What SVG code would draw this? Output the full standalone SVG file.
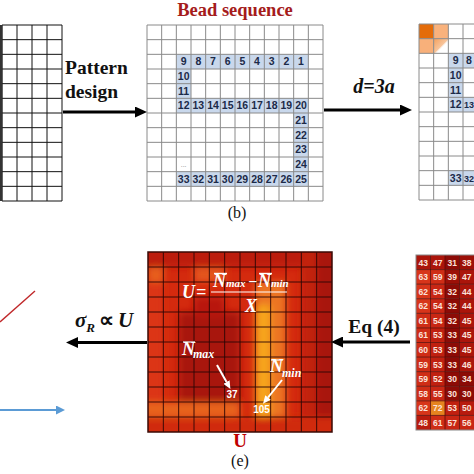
<svg xmlns="http://www.w3.org/2000/svg" width="474" height="474" viewBox="0 0 474 474">
<style>
.gk{fill:none;stroke:#111;stroke-width:1}
.gg{fill:none;stroke:#8a8a8a;stroke-width:1}
.bl{fill:#c9d8ec}
.bn{font-family:"Liberation Sans",Arial,sans-serif;font-weight:bold;font-size:10.5px;fill:#1c2a48;text-anchor:middle}
.ser{font-family:"Liberation Serif","Times New Roman",serif;font-weight:bold;fill:#111}
.cap{font-family:"Liberation Serif","Times New Roman",serif;font-size:16px;fill:#111;text-anchor:middle}
.wi{font-family:"Liberation Serif","Times New Roman",serif;font-weight:bold;font-style:italic;fill:#fff}
.wn{font-family:"Liberation Sans",Arial,sans-serif;font-weight:bold;font-size:10px;fill:#fff;text-anchor:middle}
.dn{font-family:"Liberation Sans",Arial,sans-serif;font-weight:bold;font-size:8.5px;fill:#fbe2da;text-anchor:middle}
.arr{stroke:#000;stroke-width:3.2;fill:none}
</style>
<defs>
<marker id="ah" markerUnits="userSpaceOnUse" markerWidth="12" markerHeight="11" refX="0" refY="5.5" orient="auto" viewBox="0 0 12 11">
<path d="M0,0 L12,5.5 L0,11 z" fill="#000"/>
</marker>
<marker id="ahw" markerUnits="userSpaceOnUse" markerWidth="8" markerHeight="7" refX="0" refY="3.5" orient="auto" viewBox="0 0 8 7">
<path d="M0,0 L8,3.5 L0,7 z" fill="#fff"/>
</marker>
<marker id="ahb" markerUnits="userSpaceOnUse" markerWidth="9" markerHeight="9" refX="0" refY="4.5" orient="auto" viewBox="0 0 9 9">
<path d="M0,0 L9,4.5 L0,9 z" fill="#5b9bd5"/>
</marker>
<linearGradient id="og" x1="0" y1="0" x2="1" y2="1">
<stop offset="0" stop-color="#f4a05c"/>
<stop offset="0.5" stop-color="#f8c49a"/>
<stop offset="0.62" stop-color="#fff" stop-opacity="0"/>
</linearGradient>
<clipPath id="hmclip"><rect x="148" y="252" width="184" height="180"/></clipPath>
<filter id="blur" x="-10%" y="-10%" width="120%" height="120%"><feGaussianBlur stdDeviation="3.5"/></filter>
</defs>
<rect width="474" height="474" fill="#fff"/>

<!-- (a) empty grid -->
<g id="grid-a">
<path class="gk" d="M2,25V201M17,25V201M32,25V201M47,25V201M62,25V201M2,25H62M2,39.67H62M2,54.33H62M2,69H62M2,83.67H62M2,98.33H62M2,113H62M2,127.67H62M2,142.33H62M2,157H62M2,171.67H62M2,186.33H62M2,201H62"/>
<line x1="1.2" y1="25" x2="1.2" y2="201" stroke="#333" stroke-width="2.4"/>
</g>

<!-- (b) bead sequence grid -->
<g id="grid-b">
<text class="ser" x="235" y="16" font-size="18.5" text-anchor="middle" style="fill:#a51c1c">Bead sequence</text>
<rect class="bl" x="176.33" y="54.33" width="132" height="14.67"/>
<rect class="bl" x="176.33" y="69" width="14.67" height="29.33"/>
<rect class="bl" x="176.33" y="98.33" width="132" height="14.67"/>
<rect class="bl" x="293.67" y="113" width="14.67" height="58.67"/>
<rect class="bl" x="176.33" y="171.67" width="132" height="14.67"/>
<path class="gg" d="M147,25V201M161.67,25V201M176.33,25V201M191,25V201M205.67,25V201M220.33,25V201M235,25V201M249.67,25V201M264.33,25V201M279,25V201M293.67,25V201M308.33,25V201M323,25V201M147,25H323M147,39.67H323M147,54.33H323M147,69H323M147,83.67H323M147,98.33H323M147,113H323M147,127.67H323M147,142.33H323M147,157H323M147,171.67H323M147,186.33H323M147,201H323"/>
<g class="bn">
<text x="183.67" y="65.2">9</text><text x="198.33" y="65.2">8</text><text x="213" y="65.2">7</text><text x="227.67" y="65.2">6</text><text x="242.33" y="65.2">5</text><text x="257" y="65.2">4</text><text x="271.67" y="65.2">3</text><text x="286.33" y="65.2">2</text><text x="301" y="65.2">1</text>
<text x="183.67" y="79.8">10</text>
<text x="183.67" y="94.5">11</text>
<text x="183.67" y="109.2">12</text><text x="198.33" y="109.2">13</text><text x="213" y="109.2">14</text><text x="227.67" y="109.2">15</text><text x="242.33" y="109.2">16</text><text x="257" y="109.2">17</text><text x="271.67" y="109.2">18</text><text x="286.33" y="109.2">19</text><text x="301" y="109.2">20</text>
<text x="301" y="123.8">21</text>
<text x="301" y="138.5">22</text>
<text x="301" y="153.2">23</text>
<text x="301" y="167.8">24</text>
<text x="183.67" y="182.5">33</text><text x="198.33" y="182.5">32</text><text x="213" y="182.5">31</text><text x="227.67" y="182.5">30</text><text x="242.33" y="182.5">29</text><text x="257" y="182.5">28</text><text x="271.67" y="182.5">27</text><text x="286.33" y="182.5">26</text><text x="301" y="182.5">25</text>
</g>
<text x="183.67" y="167" font-family="Liberation Sans,Arial,sans-serif" font-size="7" fill="#888" text-anchor="middle">...</text>
<text class="cap" x="237" y="218">(b)</text>
</g>

<!-- (c) grid with orange cells -->
<g id="grid-c">
<rect x="419" y="24" width="14.67" height="14.67" fill="#e46c0a"/>
<rect x="433.67" y="24" width="14.67" height="14.67" fill="#f9b27c"/>
<rect x="419" y="38.67" width="14.67" height="14.67" fill="#f8b07a"/>
<rect x="433.67" y="38.67" width="14.67" height="14.67" fill="url(#og)"/>
<rect class="bl" x="448.33" y="53.33" width="30" height="14.67"/>
<rect class="bl" x="448.33" y="68" width="14.67" height="29.33"/>
<rect class="bl" x="448.33" y="97.33" width="30" height="14.67"/>
<rect class="bl" x="448.33" y="170.67" width="30" height="14.67"/>
<path class="gg" d="M419,24V200M433.67,24V200M448.33,24V200M463,24V200M419,24H474M419,38.67H474M419,53.33H474M419,68H474M419,82.67H474M419,97.33H474M419,112H474M419,126.67H474M419,141.33H474M419,156H474M419,170.67H474M419,185.33H474M419,200H474"/>
<g class="bn">
<text x="455.67" y="64.2">9</text><text x="469" y="64.2">8</text>
<text x="455.67" y="78.8">10</text>
<text x="455.67" y="93.5">11</text>
<text x="455.67" y="108.2">12</text><text x="469" y="108.2" font-size="9">13</text>
<text x="455.67" y="181.5">33</text><text x="469" y="181.5" font-size="9">32</text>
</g>
</g>

<!-- (e) heat map U -->
<g id="heatmap-u">
<g clip-path="url(#hmclip)">
<rect x="140" y="244" width="200" height="196" fill="#d42a0e"/>
<g filter="url(#blur)">
<rect x="140" y="244" width="200" height="23" fill="#bc1e0c"/>
<rect x="148" y="267" width="15.3" height="15" fill="#e8601e"/>
<rect x="194" y="267" width="30.7" height="15" fill="#e4541a"/>
<rect x="301.3" y="267" width="15.3" height="15" fill="#e65a1c"/>
<rect x="140" y="282" width="23.3" height="120" fill="#dc3412"/>
<rect x="178.7" y="312" width="61.3" height="90" fill="#a8140a"/>
<rect x="194" y="297" width="30.7" height="20" fill="#b8190b"/>
<rect x="301.3" y="252" width="15.3" height="180" fill="#c2200c"/>
<rect x="316.7" y="244" width="24" height="196" fill="#a8140a"/>
<rect x="255.3" y="282" width="30.7" height="150" fill="#ec7420"/>
<rect x="255.3" y="305" width="15.3" height="115" fill="#f6a41c"/>
<rect x="140" y="402" width="100" height="15" fill="#e8641e"/>
<rect x="140" y="417" width="200" height="20" fill="#d02a0e"/>
</g>
</g>
<path fill="none" stroke="#2a0604" stroke-width="1" opacity="0.9" d="M163.33,252V432M178.67,252V432M194,252V432M209.33,252V432M224.67,252V432M240,252V432M255.33,252V432M270.67,252V432M286,252V432M301.33,252V432M316.67,252V432M148,267H332M148,282H332M148,297H332M148,312H332M148,327H332M148,342H332M148,357H332M148,372H332M148,387H332M148,402H332M148,417H332"/>
<rect x="148" y="252" width="184" height="180" fill="none" stroke="#3a0a06" stroke-width="1.5"/>
<!-- formula -->
<text class="wi" x="182" y="298" font-size="18">U</text>
<text class="wi" x="196" y="298" font-size="18" font-style="normal">=</text>
<text class="wi" x="213" y="287" font-size="18">N</text>
<line x1="214" y1="273.5" x2="227" y2="273.5" stroke="#fff" stroke-width="1.4"/>
<text class="wi" x="226" y="287" font-size="11" font-style="normal">max</text>
<text class="wi" x="248" y="287" font-size="16" font-style="normal">−</text>
<text class="wi" x="258" y="287" font-size="18">N</text>
<line x1="259" y1="273.5" x2="272" y2="273.5" stroke="#fff" stroke-width="1.4"/>
<text class="wi" x="271" y="287" font-size="11" font-style="normal">min</text>
<line x1="211" y1="292" x2="287" y2="292" stroke="#fff" stroke-width="1.2"/>
<text class="wi" x="245" y="312" font-size="18">X</text>
<!-- labels -->
<text class="wi" x="182" y="355" font-size="18">N</text>
<line x1="183" y1="342" x2="195" y2="342" stroke="#fff" stroke-width="1.2"/>
<text class="wi" x="193" y="358" font-size="12">max</text>
<text class="wi" x="270" y="372" font-size="18">N</text>
<line x1="271" y1="360" x2="283" y2="360" stroke="#fff" stroke-width="1.2"/>
<text class="wi" x="282" y="377" font-size="12">min</text>
<line x1="217" y1="365" x2="226.5" y2="382" stroke="#fff" stroke-width="2" marker-end="url(#ahw)"/>
<line x1="282" y1="380" x2="268" y2="397.5" stroke="#fff" stroke-width="2" marker-end="url(#ahw)"/>
<text class="wn" x="232" y="398">37</text>
<text class="wn" x="261.5" y="413">105</text>
<text class="ser" x="240" y="447" font-size="19" text-anchor="middle" style="fill:#c00000">U</text>
<text class="cap" x="240" y="466">(e)</text>
</g>

<!-- (d) number grid -->
<g id="grid-d">
<g>
<rect x="416" y="255" width="14.5" height="14.58" fill="#ab150b"/><rect x="430.5" y="255" width="14.5" height="14.58" fill="#ab150b"/><rect x="445" y="255" width="14.5" height="14.58" fill="#8c0b06"/><rect x="459.5" y="255" width="14.5" height="14.58" fill="#9c1008"/>
<rect x="416" y="269.58" width="14.5" height="14.58" fill="#d7351a"/><rect x="430.5" y="269.58" width="14.5" height="14.58" fill="#cf2d16"/><rect x="445" y="269.58" width="14.5" height="14.58" fill="#9c1008"/><rect x="459.5" y="269.58" width="14.5" height="14.58" fill="#ab150b"/>
<rect x="416" y="284.17" width="14.5" height="14.58" fill="#d7351a"/><rect x="430.5" y="284.17" width="14.5" height="14.58" fill="#c82614"/><rect x="445" y="284.17" width="14.5" height="14.58" fill="#8c0b06"/><rect x="459.5" y="284.17" width="14.5" height="14.58" fill="#ab150b"/>
<rect x="416" y="298.75" width="14.5" height="14.58" fill="#d7351a"/><rect x="430.5" y="298.75" width="14.5" height="14.58" fill="#c82614"/><rect x="445" y="298.75" width="14.5" height="14.58" fill="#8c0b06"/><rect x="459.5" y="298.75" width="14.5" height="14.58" fill="#ab150b"/>
<rect x="416" y="313.33" width="14.5" height="14.58" fill="#cf2d16"/><rect x="430.5" y="313.33" width="14.5" height="14.58" fill="#c82614"/><rect x="445" y="313.33" width="14.5" height="14.58" fill="#8c0b06"/><rect x="459.5" y="313.33" width="14.5" height="14.58" fill="#ab150b"/>
<rect x="416" y="327.92" width="14.5" height="14.58" fill="#cf2d16"/><rect x="430.5" y="327.92" width="14.5" height="14.58" fill="#c02010"/><rect x="445" y="327.92" width="14.5" height="14.58" fill="#8c0b06"/><rect x="459.5" y="327.92" width="14.5" height="14.58" fill="#ab150b"/>
<rect x="416" y="342.5" width="14.5" height="14.58" fill="#cf2d16"/><rect x="430.5" y="342.5" width="14.5" height="14.58" fill="#c02010"/><rect x="445" y="342.5" width="14.5" height="14.58" fill="#8c0b06"/><rect x="459.5" y="342.5" width="14.5" height="14.58" fill="#ab150b"/>
<rect x="416" y="357.08" width="14.5" height="14.58" fill="#cf2d16"/><rect x="430.5" y="357.08" width="14.5" height="14.58" fill="#c02010"/><rect x="445" y="357.08" width="14.5" height="14.58" fill="#8c0b06"/><rect x="459.5" y="357.08" width="14.5" height="14.58" fill="#ab150b"/>
<rect x="416" y="371.67" width="14.5" height="14.58" fill="#cf2d16"/><rect x="430.5" y="371.67" width="14.5" height="14.58" fill="#c02010"/><rect x="445" y="371.67" width="14.5" height="14.58" fill="#8c0b06"/><rect x="459.5" y="371.67" width="14.5" height="14.58" fill="#8c0b06"/>
<rect x="416" y="386.25" width="14.5" height="14.58" fill="#cf2d16"/><rect x="430.5" y="386.25" width="14.5" height="14.58" fill="#c82614"/><rect x="445" y="386.25" width="14.5" height="14.58" fill="#8c0b06"/><rect x="459.5" y="386.25" width="14.5" height="14.58" fill="#8c0b06"/>
<rect x="416" y="400.83" width="14.5" height="14.58" fill="#d7351a"/><rect x="430.5" y="400.83" width="14.5" height="14.58" fill="#e6841f"/><rect x="445" y="400.83" width="14.5" height="14.58" fill="#c02010"/><rect x="459.5" y="400.83" width="14.5" height="14.58" fill="#b81b0e"/>
<rect x="416" y="415.42" width="14.5" height="14.58" fill="#b81b0e"/><rect x="430.5" y="415.42" width="14.5" height="14.58" fill="#cf2d16"/><rect x="445" y="415.42" width="14.5" height="14.58" fill="#c82614"/><rect x="459.5" y="415.42" width="14.5" height="14.58" fill="#c82614"/>
</g>
<path fill="none" stroke="#5a0a05" stroke-width="0.8" d="M430.5,255V430M445,255V430M459.5,255V430M416,269.58H474M416,284.17H474M416,298.75H474M416,313.33H474M416,327.92H474M416,342.5H474M416,357.08H474M416,371.67H474M416,386.25H474M416,400.83H474M416,415.42H474"/>
<rect x="416" y="255" width="60" height="175" fill="none" stroke="#888" stroke-width="1"/>
<g class="dn">
<text x="423.25" y="265.5">43</text><text x="437.75" y="265.5">47</text><text x="452.25" y="265.5">31</text><text x="466.75" y="265.5">38</text>
<text x="423.25" y="280.1">63</text><text x="437.75" y="280.1">59</text><text x="452.25" y="280.1">39</text><text x="466.75" y="280.1">47</text>
<text x="423.25" y="294.7">62</text><text x="437.75" y="294.7">54</text><text x="452.25" y="294.7">32</text><text x="466.75" y="294.7">44</text>
<text x="423.25" y="309.2">62</text><text x="437.75" y="309.2">54</text><text x="452.25" y="309.2">32</text><text x="466.75" y="309.2">44</text>
<text x="423.25" y="323.8">61</text><text x="437.75" y="323.8">54</text><text x="452.25" y="323.8">32</text><text x="466.75" y="323.8">45</text>
<text x="423.25" y="338.4">61</text><text x="437.75" y="338.4">53</text><text x="452.25" y="338.4">33</text><text x="466.75" y="338.4">45</text>
<text x="423.25" y="353">60</text><text x="437.75" y="353">53</text><text x="452.25" y="353">33</text><text x="466.75" y="353">45</text>
<text x="423.25" y="367.6">59</text><text x="437.75" y="367.6">53</text><text x="452.25" y="367.6">33</text><text x="466.75" y="367.6">46</text>
<text x="423.25" y="382.2">59</text><text x="437.75" y="382.2">52</text><text x="452.25" y="382.2">30</text><text x="466.75" y="382.2">34</text>
<text x="423.25" y="396.7">58</text><text x="437.75" y="396.7">55</text><text x="452.25" y="396.7">30</text><text x="466.75" y="396.7">30</text>
<text x="423.25" y="411.3">62</text><text x="437.75" y="411.3">72</text><text x="452.25" y="411.3">53</text><text x="466.75" y="411.3">50</text>
<text x="423.25" y="425.9">48</text><text x="437.75" y="425.9">61</text><text x="452.25" y="425.9">57</text><text x="466.75" y="425.9">56</text>
</g>
</g>

<!-- bottom-left partial plot -->
<g id="plot-f">
<line x1="0" y1="322" x2="35" y2="291" stroke="#c0282a" stroke-width="1.4"/>
</g>

<!-- connectors -->
<g id="connectors">
<line class="arr" x1="63" y1="112" x2="135" y2="112" marker-end="url(#ah)"/>
<text class="ser" x="65" y="74" font-size="19.5">Pattern</text>
<text class="ser" x="65" y="98" font-size="19.5">design</text>
<line class="arr" x1="324" y1="110" x2="400" y2="110" marker-end="url(#ah)"/>
<text class="ser" x="374" y="93" font-size="20" font-style="italic" text-anchor="middle">d=3a</text>
<line class="arr" x1="410" y1="342" x2="343" y2="342" marker-end="url(#ah)"/>
<text class="ser" x="374" y="333" font-size="19.5" text-anchor="middle">Eq (4)</text>
<line class="arr" x1="147" y1="342.5" x2="78" y2="342.5" marker-end="url(#ah)"/>
<text class="ser" x="75" y="327" font-size="21" font-style="italic">σ<tspan font-size="13" dy="5">R</tspan><tspan dy="-5" dx="4" font-style="normal">∝</tspan><tspan dx="4">U</tspan></text>
<line x1="0" y1="410" x2="56" y2="410" stroke="#5b9bd5" stroke-width="2" marker-end="url(#ahb)"/>
</g>
</svg>
